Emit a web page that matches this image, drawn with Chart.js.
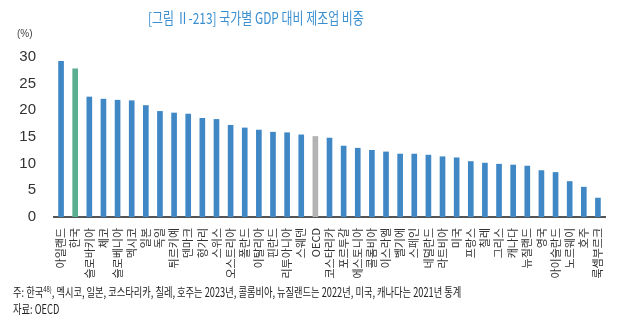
<!DOCTYPE html>
<html>
<head>
<meta charset="utf-8">
<script src="https://cdn.jsdelivr.net/npm/chart.js@4"></script>
<style>
  body { margin: 0; background: #fff; }
  #wrap { position: relative; width: 640px; height: 327px; overflow: hidden; font-family: "Noto Sans CJK KR", sans-serif; }
  #chart { position: absolute; left: 0; top: 0; }
  .title { position: absolute; left: 148px; top: 6px; font-size: 15.5px; color: #3a8fd0; white-space: nowrap; transform: scaleX(0.77); transform-origin: left top; }
  .unit { position: absolute; left: 17px; top: 28px; font-size: 10px; color: #444; font-family: "Liberation Sans", sans-serif; }
  .note { position: absolute; left: 13px; font-size: 12.5px; color: #222; white-space: nowrap; transform: scaleX(0.74); transform-origin: left top; }
  .note sup { font-size: 8px; }
</style>
</head>
<body>
<div id="wrap">
  <canvas id="chart" width="640" height="327"></canvas>
  <div class="title">[그림 Ⅱ-213] 국가별 GDP 대비 제조업 비중</div>
  <div class="unit">(%)</div>
  <div class="note" style="top:282px">주: 한국<sup>48)</sup>, 멕시코, 일본, 코스타리카, 칠레, 호주는 2023년, 콜롬비아, 뉴질랜드는 2022년, 미국, 캐나다는 2021년 통계</div>
  <div class="note" style="top:299px">자료: OECD</div>
</div>
<script>
// 국가별 GDP 대비 제조업 비중 (%)
var countries = ['아일랜드', '한국', '슬로바키아', '체코', '슬로베니아', '멕시코', '일본', '독일', '튀르키예', '덴마크',
  '헝가리', '스위스', '오스트리아', '폴란드', '이탈리아', '핀란드', '리투아니아', '스웨덴', 'OECD', '코스타리카',
  '포르투갈', '에스토니아', '콜롬비아', '이스라엘', '벨기에', '스페인', '네덜란드', '라트비아', '미국', '프랑스',
  '칠레', '그리스', '캐나다', '뉴질랜드', '영국', '아이슬란드', '노르웨이', '호주', '룩셈부르크'];
var shares = [29.2, 27.8, 22.5, 22.1, 21.9, 21.8, 20.9, 19.8, 19.5, 19.3,
  18.5, 18.3, 17.2, 16.7, 16.3, 15.9, 15.8, 15.4, 15.1, 14.8,
  13.3, 12.9, 12.5, 12.2, 11.8, 11.8, 11.6, 11.3, 11.1, 10.4,
  10.1, 9.9, 9.75, 9.55, 8.7, 8.35, 6.65, 5.6, 3.55];
var yTicks = [0, 5, 10, 15, 20, 25, 30];

var barColors = countries.map(function (c) {
  if (c === '한국') return '#5bae8f';
  if (c === 'OECD') return '#b3b3b3';
  return '#3f88c5';
});

var ctx = document.getElementById('chart').getContext('2d');
var chart = new Chart(ctx, {
  type: 'bar',
  data: {
    labels: countries,
    datasets: [{
      data: shares,
      backgroundColor: barColors,
      barThickness: 5
    }]
  },
  options: {
    responsive: false,
    animation: false,
    layout: { padding: { top: 57, right: 35, left: 0, bottom: 0 } },
    plugins: { legend: { display: false }, tooltip: { enabled: false } },
    scales: {
      x: {
        grid: { display: false },
        border: { display: true, color: '#555', width: 2 },
        ticks: {
          autoSkip: false,
          minRotation: 90,
          maxRotation: 90,
          padding: 3,
          color: '#333',
          font: { family: 'Noto Sans CJK KR', size: 11 }
        },
        afterFit: function (s) { s.height = 110; }
      },
      y: {
        min: 0,
        max: 30,
        afterBuildTicks: function (s) { s.ticks = yTicks.map(function (v) { return { value: v }; }); },
        grid: { display: false },
        border: { display: false },
        ticks: {
          padding: 10,
          color: '#333',
          font: { family: 'Liberation Sans', size: 15 }
        },
        afterFit: function (s) { s.width = 54; }
      }
    }
  }
});
</script>
</body>
</html>
